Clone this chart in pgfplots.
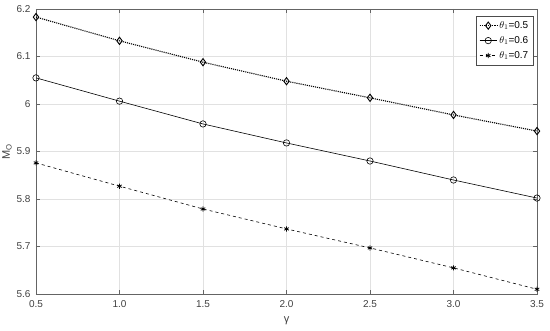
\documentclass[border=0pt]{standalone}
\usepackage{fontspec}
\setmainfont{Liberation Sans}
\usepackage{pgfplots}
\pgfplotsset{compat=1.18}
\definecolor{axgray}{RGB}{100,100,100}
\definecolor{gridgray}{RGB}{225,225,225}
\begin{document}
\begin{tikzpicture}
\begin{axis}[
  scale only axis,
  width=501pt, height=285pt,
  xmin=0.5, xmax=3.5, ymin=5.6, ymax=6.2,
  xtick={0.5,1,1.5,2,2.5,3,3.5},
  ytick={5.6,5.7,5.8,5.9,6,6.1,6.2},
  xticklabel style={/pgf/number format/fixed,/pgf/number format/fixed zerofill,/pgf/number format/precision=1, yshift=-3pt},
  yticklabel style={xshift=-2pt},
  /pgf/number format/assume math mode=true,
  tick label style={font=\fontsize{10}{12}\selectfont, text=black!75},
  grid=major,
  major grid style={gridgray, line width=0.5pt},
  axis line style={axgray, line width=0.6pt},
  tick style={axgray, line width=0.5pt},
  major tick length=4pt,
  tick align=inside,
  xlabel={γ}, ylabel={M\textsubscript{O}},
  label style={font=\fontsize{11}{13}\selectfont, text=black!75},
  xlabel style={yshift=-2pt},
  ylabel style={yshift=-2pt},
  legend style={at={(0.993,0.975)}, anchor=north east, draw=black!70, line width=0.5pt,
    font=\fontsize{10}{12}\selectfont, row sep=2.5pt, inner sep=3pt},
  legend cell align=left,
]
\addplot[black, densely dotted, line width=1.1pt, mark=diamond, mark size=3.6pt, mark options={solid, line width=0.9pt}]
 coordinates {(0.5,6.183) (1.0,6.133) (1.5,6.088) (2.0,6.048) (2.5,6.013) (3.0,5.977) (3.5,5.943)};
\addlegendentry{$\theta_1$=0.5}
\addplot[black, solid, line width=0.6pt, mark=o, mark size=3.2pt, mark options={solid, line width=0.6pt}]
 coordinates {(0.5,6.055) (1.0,6.006) (1.5,5.958) (2.0,5.918) (2.5,5.880) (3.0,5.840) (3.5,5.802)};
\addlegendentry{$\theta_1$=0.6}
\addplot[black, dashed, line width=0.6pt, mark=asterisk, mark size=2.6pt, mark options={solid, line width=0.8pt}]
 coordinates {(0.5,5.876) (1.0,5.827) (1.5,5.779) (2.0,5.737) (2.5,5.697) (3.0,5.655) (3.5,5.610)};
\addlegendentry{$\theta_1$=0.7}
\coordinate (sw) at (rel axis cs:0,0);
\coordinate (ne) at (rel axis cs:1,1);
\end{axis}
\pgfresetboundingbox
\path ([xshift=-36pt,yshift=-37pt]sw) rectangle ([xshift=13pt,yshift=9pt]ne);
\end{tikzpicture}
\end{document}
